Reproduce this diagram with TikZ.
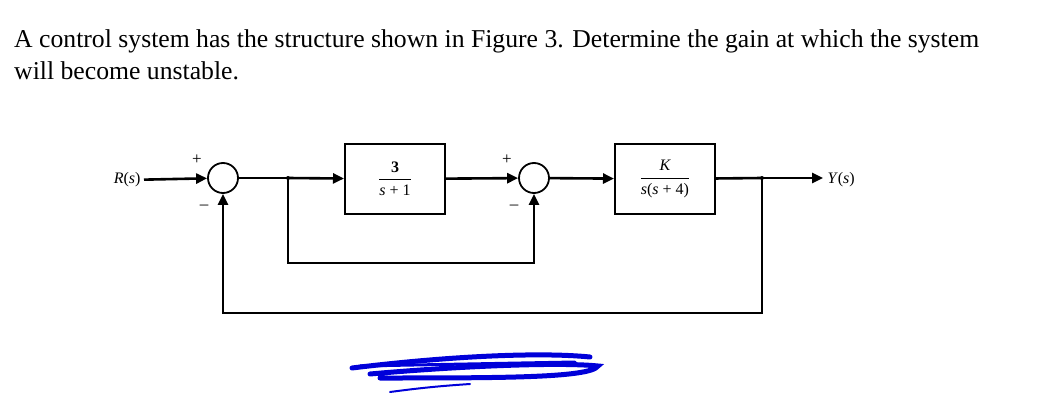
\documentclass[tikz,border=0pt]{standalone}
\usepackage{amsmath}
\usepackage{fontspec}
\setmainfont{Liberation Serif}
\usetikzlibrary{arrows.meta}
\begin{document}
\begin{tikzpicture}[x=1pt,y=-1pt,
  sig/.style={line width=2.6pt},
  arr/.style={sig,-{Triangle[length=11pt,width=10pt]}},
  sumj/.style={circle,draw,line width=1.8pt,minimum size=30pt,inner sep=0pt},
  blk/.style={draw,line width=2pt,minimum width=100pt,minimum height=69pt,inner sep=0pt,font=\fontsize{16}{18}\selectfont},
  lbl/.style={font=\fontsize{16}{18}\selectfont},
  sgn/.style={font=\fontsize{17}{18}\selectfont,inner sep=0pt}]
\useasboundingbox (0,0) rectangle (1041,401);
\node[anchor=base west,font=\fontsize{25.7}{28}\selectfont,inner sep=0pt] (t1) at (14,48) {A control system has the structure shown in Figure 3. Determine the gain at which the system};
\node[anchor=base west,font=\fontsize{25.7}{28}\selectfont,inner sep=0pt] (t2) at (14,80) {will become unstable.};
\node[lbl,anchor=east] (R) at (144,180) {\textit{R}(\textit{s})};
\node[sumj] (s1) at (223,178) {};
\coordinate (b1) at (288,178);
\node[blk] (G1) at (395,179) {$\dfrac{\textbf{3}}{\text{\textit{s} + 1}}$};
\node[sumj] (s2) at (534,178) {};
\node[blk] (G2) at (665,179) {$\dfrac{\textit{K}}{\text{\textit{s}(\textit{s} + 4)}}$};
\coordinate (b2) at (762,178);
\coordinate (ye) at (823,178);
\node[lbl,anchor=west] (Y) at (824,180) {\textit{Y}(\textit{s})};
\coordinate (l1) at (288,263);
\coordinate (l2) at (534,263);
\coordinate (o1) at (762,313);
\coordinate (o2) at (223,313);
\node[sgn] (p1) at (197,160) {+};
\node[sgn] (m1) at (204,207) {–};
\node[sgn] (p2) at (507,160) {+};
\node[sgn] (m2) at (514,207) {–};
\draw[arr] (R) -- (s1);
\draw[sig] (s1) -- (b1);
\draw[arr] (b1) -- (G1);
\draw[arr] (G1) -- (s2);
\draw[arr] (s2) -- (G2);
\draw[sig] (G2) -- (b2);
\draw[arr] (b2) -- (ye);
\draw[arr] (b1) -- (l1) -- (l2) -- (s2);
\draw[arr] (b2) -- (o1) -- (o2) -- (s1);
\fill (b1) circle (2pt);
\fill (b2) circle (2pt);
\begin{scope}[blue!85!black,line width=5pt,line cap=round]
\draw (352,368) .. controls (450,356) and (540,352) .. (590,357);
\draw (370,374) .. controls (460,366) and (560,362) .. (598,366) .. controls (590,378) and (500,378) .. (380,378);
\draw[line width=3pt] (360,366) -- (575,362);
\draw[line width=2pt] (390,392) .. controls (420,388) and (440,386) .. (470,384);
\end{scope}
\end{tikzpicture}
\end{document}
